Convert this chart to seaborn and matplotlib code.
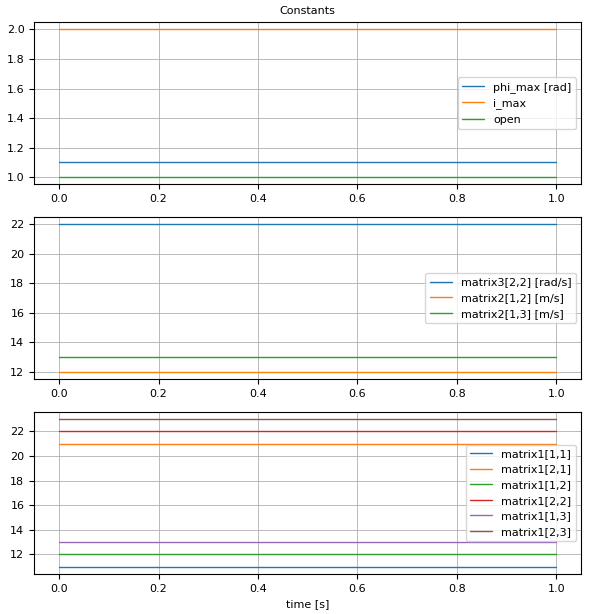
import numpy as np
import pandas as pd
import matplotlib
matplotlib.use("Agg")
import matplotlib.pyplot as plt
import seaborn as sns

# time axis
time = [0.0, 1.0]

# panel 1
names1 = ["phi_max [rad]", "i_max", "open"]
values1 = [1.1, 2.0, 1.0]

# panel 2
names2 = ["matrix3[2,2] [rad/s]", "matrix2[1,2] [m/s]", "matrix2[1,3] [m/s]"]
values2 = [22.0, 12.0, 13.0]

# panel 3
names3 = ["matrix1[1,1]", "matrix1[2,1]", "matrix1[1,2]",
          "matrix1[2,2]", "matrix1[1,3]", "matrix1[2,3]"]
values3 = [11.0, 21.0, 12.0, 22.0, 13.0, 23.0]

sns.set_style("ticks", {"axes.grid": True, "grid.color": "#b0b0b0"})
plt.rcParams["font.family"] = ["DejaVu Sans"]
plt.rcParams["font.size"] = 8
plt.rcParams["axes.edgecolor"] = "black"
plt.rcParams["text.color"] = "black"
plt.rcParams["xtick.color"] = "black"
plt.rcParams["ytick.color"] = "black"
plt.rcParams["axes.labelcolor"] = "black"


def make_df(names, values):
    rows = []
    for n, v in zip(names, values):
        for t in time:
            rows.append({"time": t, "value": v, "signal": n})
    return pd.DataFrame(rows)


fig, axes = plt.subplots(3, 1, figsize=(5.89, 6.14), dpi=100)
pal = sns.color_palette("tab10")

for ax, names, values in zip(axes, [names1, names2, names3],
                             [values1, values2, values3]):
    df = make_df(names, values)
    sns.lineplot(data=df, x="time", y="value", hue="signal",
                 palette=pal[:len(names)], ax=ax, linewidth=1.0)
    ax.set_xlabel("")
    ax.set_ylabel("")
    ax.legend(loc="center right", fontsize=8)
    ax.tick_params(labelsize=8, length=3.5, color="black", labelcolor="black")
    ax.set_xticks([0.0, 0.2, 0.4, 0.6, 0.8, 1.0])
    ax.set_xlim(-0.05, 1.05)
    ax.grid(True, color="#b0b0b0", linewidth=0.6)
    for s in ax.spines.values():
        s.set_visible(True)
        s.set_color("black")

axes[0].set_title("Constants", fontsize=8)
axes[1].set_yticks([12, 14, 16, 18, 20, 22])
axes[2].set_yticks([12, 14, 16, 18, 20, 22])
axes[2].set_xlabel("time [s]", fontsize=8)

fig.subplots_adjust(left=0.058, right=0.987, top=0.964, bottom=0.065, hspace=0.2)
fig.savefig("out.png", dpi=100)
